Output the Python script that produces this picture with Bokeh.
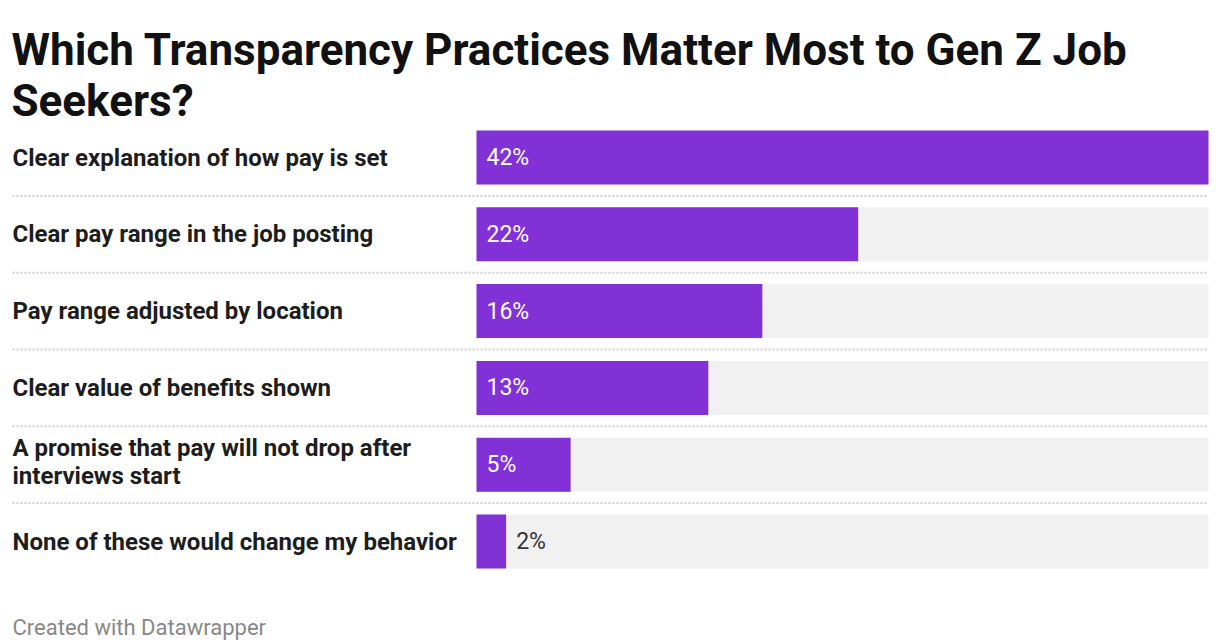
from bokeh.plotting import figure
from bokeh.models import Range1d, ColumnDataSource
from bokeh.core.properties import value
from bokeh.embed import file_html
from bokeh.resources import INLINE

# ---- data ----
categories = [
    "Clear explanation of how pay is set",
    "Clear pay range in the job posting",
    "Pay range adjusted by location",
    "Clear value of benefits shown",
    "A promise that pay will not drop after\ninterviews start",
    "None of these would change my behavior",
]
values = [42, 21.9, 16.4, 13.3, 5.4, 1.7]
value_labels = [f"{round(v)}%" for v in values]
title_lines = ["Which Transparency Practices Matter Most to Gen Z Job", "Seekers?"]
footer = "Created with Datawrapper"

# ---- layout geometry (pixels) ----
W, H = 1220, 644
BAR_X0, BAR_X1 = 476, 1208
ROW0, PITCH = 157, 76.8
BAR_H_PX = 54
x_max = max(values)
ppu = (BAR_X1 - BAR_X0) / x_max


def X(px):
    return (px - BAR_X0) / ppu


def Y(py):
    return (py - ROW0) / PITCH


p = figure(width=W, height=H,
           x_range=Range1d(X(0), X(W)), y_range=Range1d(Y(H), Y(0)),
           output_backend="svg", toolbar_location=None,
           x_axis_location=None, y_axis_location=None,
           min_border=0, outline_line_color=None,
           background_fill_color="white", border_fill_color="white")
p.grid.visible = False

n = len(categories)
idx = list(range(n))
bar_h = BAR_H_PX / PITCH

src = ColumnDataSource(dict(
    y=idx, cat=categories, val=values, lab=value_labels,
    full=[x_max] * n,
    yoff=[-3 if "\n" in c else 0 for c in categories],
))

# background track
p.hbar(y="y", left=0, right="full", height=bar_h, source=src,
       fill_color="#f1f1f1", line_color=None)
# value bars
p.hbar(y="y", left=0, right="val", height=bar_h, source=src,
       fill_color="#8231d6", line_color=None)

# separators
p.segment(x0=X(12), x1=x_max, y0=[i + 0.5 for i in range(n - 1)],
          y1=[i + 0.5 for i in range(n - 1)],
          line_color="#cfcfcf", line_width=2, line_dash="2 2")

# category labels
p.text(x=X(12), y="y", text="cat", source=src, y_offset="yoff",
       text_font=value("Roboto"), text_font_style="bold",
       text_font_size="24px", text_color="#1d1d1d",
       text_align="left", text_baseline="middle", text_line_height=1.0)

# value labels
inside = [v * ppu > 60 for v in values]
lab_src = ColumnDataSource(dict(
    x=[(10 / ppu) if ins else v + 10 / ppu for v, ins in zip(values, inside)],
    y=idx, lab=value_labels,
    color=["#ffffff" if ins else "#333333" for ins in inside],
))
p.text(x="x", y="y", text="lab", source=lab_src,
       text_font=value("Roboto"), text_font_size="23px",
       text_color="color", text_align="left", text_baseline="middle")

# title
p.text(x=[X(11), X(11)], y=[Y(49), Y(100)], text=title_lines,
       text_font=value("Roboto"), text_font_style="bold",
       text_font_size="44px", text_color="#111111",
       text_align="left", text_baseline="alphabetic")

# footer
p.text(x=[X(12)], y=[Y(627)], text=[footer],
       text_font=value("Roboto"), text_font_size="22px",
       text_color="#888888", text_align="left", text_baseline="alphabetic")

open("out.html", "w").write(file_html(p, INLINE))
